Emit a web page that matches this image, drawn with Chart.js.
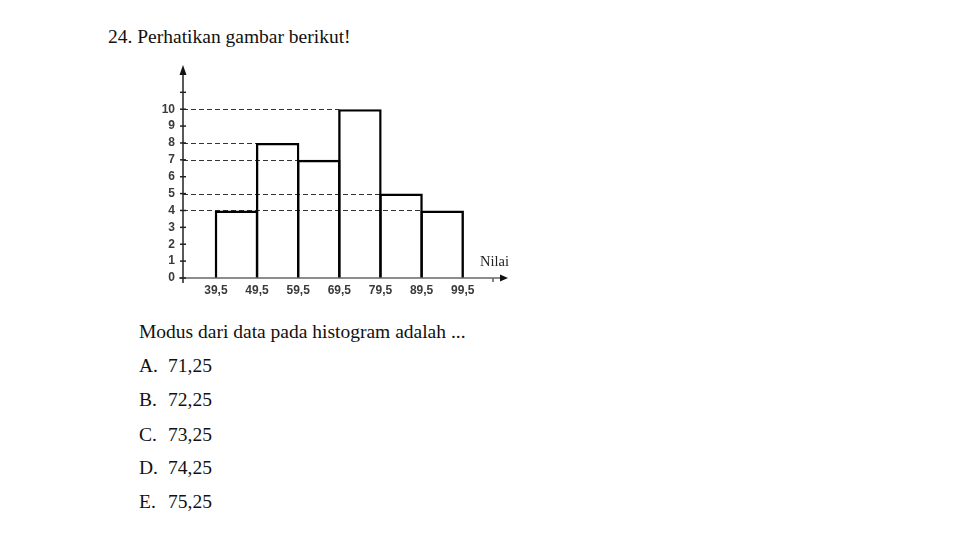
<!DOCTYPE html>
<html>
<head>
<meta charset="utf-8">
<script src="https://cdn.jsdelivr.net/npm/chart.js@4"></script>
<style>
  html, body { margin: 0; padding: 0; background: #fff; }
  body { width: 966px; height: 538px; position: relative; overflow: hidden;
         font-family: "Liberation Serif", "Times New Roman", serif; color: #111; }
  .t { position: absolute; font-size: 19.5px; line-height: 19.5px; white-space: nowrap; }
  .opt span.l { display: inline-block; width: 29px; }
  #wrap { position: absolute; left: 140px; top: 55px; width: 380px; height: 250px; }
  #c { display: block; width: 380px; height: 250px; }
  #nilai { position: absolute; left: 480px; top: 254px; font-size: 14.5px; line-height: 14.5px; color: #222; }
</style>
</head>
<body>
<div class="t" style="left:108px; top:27px;">24. Perhatikan gambar berikut!</div>
<div id="wrap"><canvas id="c" width="380" height="250"></canvas></div>
<div id="nilai">Nilai</div>
<div class="t" style="left:139px; top:322px;">Modus dari data pada histogram adalah ...</div>
<div class="t opt" style="left:139px; top:356px;"><span class="l">A.</span>71,25</div>
<div class="t opt" style="left:139px; top:390px;"><span class="l">B.</span>72,25</div>
<div class="t opt" style="left:139px; top:425px;"><span class="l">C.</span>73,25</div>
<div class="t opt" style="left:139px; top:458px;"><span class="l">D.</span>74,25</div>
<div class="t opt" style="left:139px; top:492px;"><span class="l">E.</span>75,25</div>

<script>
// ---- data ----
const classEdges = [39.5, 49.5, 59.5, 69.5, 79.5, 89.5, 99.5];
const xTickLabels = ['39,5', '49,5', '59,5', '69,5', '79,5', '89,5', '99,5'];
const frequencies = [4, 8, 7, 10, 5, 4];
const yTickValues = [0, 1, 2, 3, 4, 5, 6, 7, 8, 9, 10, 11];
const yTickLabels = ['0', '1', '2', '3', '4', '5', '6', '7', '8', '9', '10', ''];

const barData = frequencies.map((f, i) => ({ x: (classEdges[i] + classEdges[i + 1]) / 2, y: f }));

const decor = {
  id: 'decor',
  beforeDatasetsDraw(chart) {
    const ctx = chart.ctx, xs = chart.scales.x, ys = chart.scales.y;
    const ax = xs.getPixelForValue(xs.min);
    // dashed guide lines: from y axis to left edge of last bar with that height
    const levels = {};
    frequencies.forEach((f, i) => { levels[f] = classEdges[i]; });
    ctx.save();
    ctx.strokeStyle = '#333';
    ctx.lineWidth = 1.2;
    ctx.setLineDash([5, 3]);
    Object.keys(levels).forEach(k => {
      const y = Math.round(ys.getPixelForValue(+k)) + 0.5;
      ctx.beginPath();
      ctx.moveTo(ax, y);
      ctx.lineTo(xs.getPixelForValue(levels[k]), y);
      ctx.stroke();
    });
    ctx.restore();
  },
  afterDatasetsDraw(chart) {
    const ctx = chart.ctx, xs = chart.scales.x, ys = chart.scales.y;
    const ax = xs.getPixelForValue(xs.min);
    const ay = ys.getPixelForValue(0);
    const top = ys.getPixelForValue(ys.max);
    const right = xs.getPixelForValue(xs.max);
    ctx.save();
    // x axis
    ctx.strokeStyle = '#666';
    ctx.lineWidth = 1.6;
    ctx.beginPath();
    ctx.moveTo(ax - 4, ay);
    ctx.lineTo(right - 6, ay);
    ctx.stroke();
    // small tick near x arrow
    ctx.beginPath();
    ctx.moveTo(right - 15, ay);
    ctx.lineTo(right - 15, ay + 4);
    ctx.stroke();
    // y axis
    ctx.strokeStyle = '#222';
    ctx.lineWidth = 1.5;
    ctx.beginPath();
    ctx.moveTo(ax, ay + 5);
    ctx.lineTo(ax, top + 6);
    ctx.stroke();
    // y tick marks crossing axis
    yTickValues.forEach(v => {
      const y = ys.getPixelForValue(v);
      ctx.beginPath();
      ctx.moveTo(ax - 3, y);
      ctx.lineTo(ax + 3, y);
      ctx.stroke();
    });
    // arrows
    ctx.fillStyle = '#111';
    ctx.beginPath();
    ctx.moveTo(ax, top - 2);
    ctx.lineTo(ax - 3.5, top + 8);
    ctx.lineTo(ax + 3.5, top + 8);
    ctx.closePath();
    ctx.fill();
    ctx.beginPath();
    ctx.moveTo(right, ay);
    ctx.lineTo(right - 8, ay - 3.5);
    ctx.lineTo(right - 8, ay + 3.5);
    ctx.closePath();
    ctx.fill();
    ctx.restore();
  }
};

new Chart(document.getElementById('c'), {
  type: 'bar',
  data: {
    datasets: [{
      data: barData,
      backgroundColor: 'rgba(255,255,255,0)',
      borderColor: '#000',
      borderWidth: 2.4,
      borderSkipped: 'start',
      barPercentage: 1.058,
      categoryPercentage: 1
    }]
  },
  options: {
    responsive: false,
    maintainAspectRatio: false,
    animation: false,
    devicePixelRatio: 1,
    layout: { padding: { top: 12, right: 12, left: 0, bottom: 0 } },
    plugins: { legend: { display: false }, tooltip: { enabled: false } },
    scales: {
      x: {
        type: 'linear',
        offset: false,
        min: 31.5, max: 110.5,
        border: { display: false },
        grid: { display: false, drawTicks: false },
        afterBuildTicks(s) { s.ticks = classEdges.map(v => ({ value: v })); },
        afterFit(s) { s.height = 27; s.paddingLeft = 0; s.paddingRight = 0; },
        ticks: {
          autoSkip: false, maxRotation: 0, padding: 5,
          color: '#3a3a3a',
          font: { family: 'Liberation Sans, Arial, sans-serif', size: 12, weight: 'bold' },
          callback: (v) => { const i = classEdges.indexOf(v); return i >= 0 ? xTickLabels[i] : ''; }
        }
      },
      y: {
        min: 0, max: 12.5,
        border: { display: false },
        grid: { display: false, drawTicks: false },
        afterBuildTicks(s) { s.ticks = yTickValues.map(v => ({ value: v })); },
        afterFit(s) { s.width = 43; s.paddingTop = 0; s.paddingBottom = 0; },
        ticks: {
          autoSkip: false, padding: 8,
          color: '#3a3a3a',
          font: { family: 'Liberation Sans, Arial, sans-serif', size: 12, weight: 'bold' },
          callback: (v) => { const i = yTickValues.indexOf(v); return i >= 0 ? yTickLabels[i] : ''; }
        }
      }
    }
  },
  plugins: [decor]
});
</script>
</body>
</html>
